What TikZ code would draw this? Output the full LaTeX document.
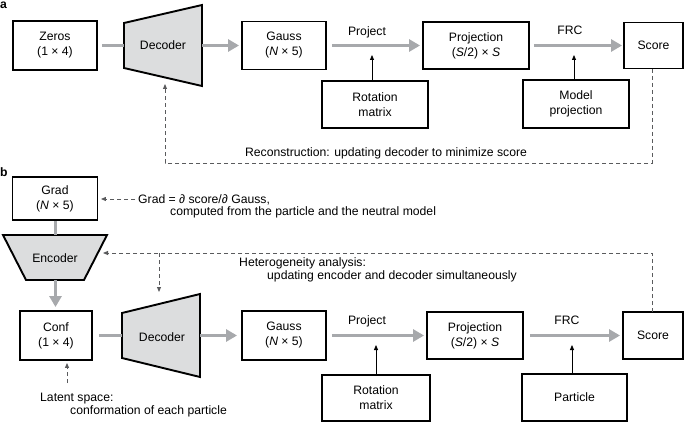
\documentclass[tikz,border=0pt]{standalone}
\usepackage{fontspec}
\setmainfont{Liberation Sans}
\usetikzlibrary{arrows.meta}
\definecolor{arrgray}{HTML}{A7A9AC}
\definecolor{dashgray}{HTML}{5A5B5D}
\definecolor{trapfill}{HTML}{DCDDDE}
\begin{document}
\begin{tikzpicture}[x=1pt,y=-1pt,
  font=\fontsize{12.2}{15}\selectfont,
  box/.style={draw=black, line width=1.9pt, inner sep=0pt, align=center},
  trap/.style={draw=black, line width=1.9pt, fill=trapfill, line join=miter},
  flow/.style={draw=arrgray, line width=3pt, -{Triangle[length=11pt,width=12pt]}},
  flowline/.style={draw=arrgray, line width=3pt},
  feed/.style={draw=black, line width=0.8pt, -{Triangle[length=5pt,width=4pt]}},
  fb/.style={draw=dashgray, line width=0.9pt, dash pattern=on 4pt off 3pt, -{Triangle[length=5pt,width=4pt]}},
  lbl/.style={inner sep=0pt, anchor=base}
]
\useasboundingbox (0,0) rectangle (685,422);

% ---------- panel a ----------
\node[lbl, anchor=base west, font=\fontsize{12.2}{15}\selectfont\bfseries] (la) at (0,9) {a};

\node[box, minimum width=84pt, minimum height=49pt] (zeros) at (55,45.5) {Zeros\\(1 × 4)};
\draw[trap] (124,23) -- (202,5) -- (202,86) -- (124,68) -- cycle;
\node (deca) at (163,45.5) {Decoder};
\coordinate (deca-w) at (124,45.5);
\coordinate (deca-e) at (202,45.5);
\coordinate (deca-s) at (165,84);
\node[box, minimum width=84pt, minimum height=48pt] (gaussa) at (284,45.5) {Gauss\\(\textit{N} × 5)};
\node[box, minimum width=106pt, minimum height=47pt] (proja) at (476,45.5) {Projection\\(\textit{S}/2) × \textit{S}};
\node[box, minimum width=59pt, minimum height=46pt] (scorea) at (653.5,45.5) {Score};
\node[box, minimum width=106pt, minimum height=47pt] (rota) at (375,104.5) {Rotation\\matrix};
\node[box, minimum width=106pt, minimum height=48pt] (model) at (576,104) {Model\\projection};

\draw[flowline, shorten <=4pt] (zeros.east) -- (deca-w);
\draw[flow, shorten >=2pt] (deca-e) -- (gaussa.west);
\draw[flow, shorten <=5pt, shorten >=2pt] (gaussa.east) -- (proja.west);
\draw[flow, shorten <=4pt, shorten >=1pt] (proja.east) -- (scorea.west);

\node[lbl] (prja) at (367,35.5) {Project};
\node[lbl] (frca) at (570,35) {FRC};

\coordinate (ra-t) at (372,55);
\coordinate (ra-b) at (372,81);
\draw[feed] (ra-b) -- (ra-t);
\coordinate (ma-t) at (574,55);
\coordinate (ma-b) at (574,80);
\draw[feed] (ma-b) -- (ma-t);

\coordinate (rc0) at (652,69);
\coordinate (rc1) at (652,163);
\coordinate (rc2) at (165,163);
\draw[fb] (rc0) -- (rc1) -- (rc2) -- (deca-s);
\node[lbl] (rect) at (386,156.5) {Reconstruction: updating decoder to minimize score};

% ---------- panel b ----------
\node[lbl, anchor=base west, font=\fontsize{12.2}{15}\selectfont\bfseries] (lb) at (0,177) {b};

\node[box, minimum width=85pt, minimum height=43pt] (grad) at (55,198.5) {Grad\\(\textit{N} × 5)};
\draw[trap] (3,235) -- (107,235) -- (84,280) -- (26,280) -- cycle;
\node (enc) at (55,258) {Encoder};
\coordinate (enc-n) at (55.5,235);
\coordinate (enc-s) at (55.5,280);
\coordinate (enc-e) at (103,253);
\node[box, minimum width=72pt, minimum height=49pt] (conf) at (56,335.5) {Conf\\(1 × 4)};

\draw[flowline] (grad.south -| enc-n) -- (enc-n);
\draw[flow, shorten >=3pt] (enc-s) -- (enc-s |- conf.north);

\coordinate (g1) at (135,199);
\draw[fb, shorten >=2.5pt] (g1) -- (grad.east |- g1);
\node[lbl, anchor=base west] (gt1) at (138,203.5) {Grad = \textit{∂} score/\textit{∂} Gauss,};
\node[lbl, anchor=base west] (gt2) at (170,215.5) {computed from the particle and the neutral model};

\draw[trap] (122,313) -- (200,294) -- (200,377) -- (122,358) -- cycle;
\node (decb) at (162,337) {Decoder};
\coordinate (decb-w) at (122,335.5);
\coordinate (decb-e) at (200,335.5);
\coordinate (decb-n) at (159,292);
\node[box, minimum width=84pt, minimum height=49pt] (gaussb) at (284,335.5) {Gauss\\(\textit{N} × 5)};
\node[box, minimum width=96pt, minimum height=47pt] (projb) at (475,335.5) {Projection\\(\textit{S}/2) × \textit{S}};
\node[box, minimum width=60pt, minimum height=47pt] (scoreb) at (653,335.5) {Score};
\node[box, minimum width=108pt, minimum height=46pt] (rotb) at (376,398) {Rotation\\matrix};
\node[box, minimum width=105pt, minimum height=47pt] (part) at (574.5,397.5) {Particle};

\draw[flowline, shorten <=6pt] (conf.east) -- (decb-w);
\draw[flow, shorten >=4pt] (decb-e) -- (gaussb.west);
\draw[flow, shorten <=5pt, shorten >=2pt] (gaussb.east) -- (projb.west);
\draw[flow, shorten <=6pt, shorten >=2pt] (projb.east) -- (scoreb.west);

\node[lbl] (prjb) at (367,324.5) {Project};
\node[lbl] (frcb) at (567,324.5) {FRC};

\coordinate (rb-t) at (376,345);
\draw[feed] (rotb.north) -- (rb-t);
\coordinate (pb-t) at (572,345);
\coordinate (pb-b) at (572,374);
\draw[feed] (pb-b) -- (pb-t);

\coordinate (h0) at (652,312);
\coordinate (h1) at (652,253);
\draw[fb] (h0) -- (h1) -- (enc-e);
\coordinate (hb) at (159,253);
\draw[fb] (hb) -- (decb-n);
\node[lbl, anchor=base west] (ht1) at (239,266.5) {Heterogeneity analysis:};
\node[lbl, anchor=base west] (ht2) at (267,279.5) {updating encoder and decoder simultaneously};

\coordinate (l1) at (67,383);
\draw[fb, shorten >=2pt] (l1) -- (l1 |- conf.south);
\node[lbl, anchor=base west] (lt1) at (40,401.5) {Latent space:};
\node[lbl, anchor=base west] (lt2) at (70,414.5) {conformation of each particle};
\end{tikzpicture}
\end{document}
